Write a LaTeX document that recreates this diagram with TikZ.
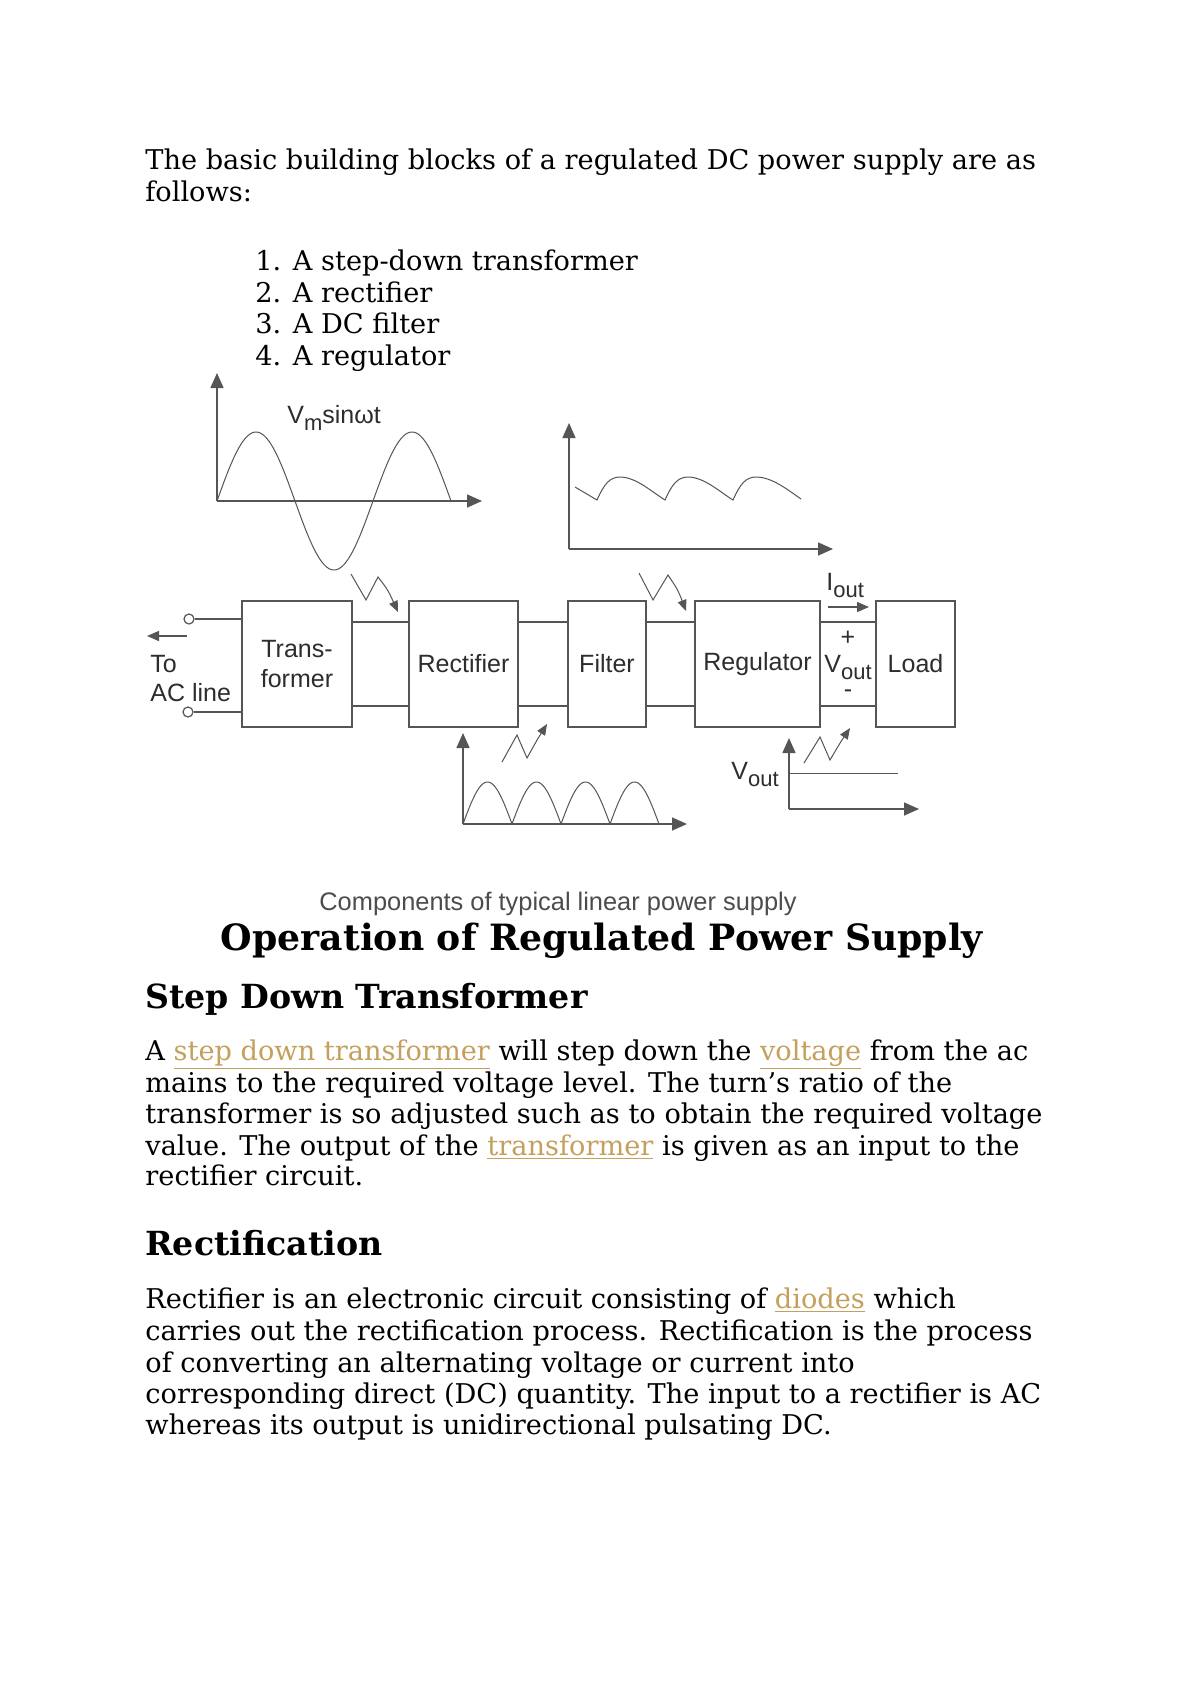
\documentclass[tikz,border=0pt]{standalone}
\usepackage{fontspec}
\setmainfont{DejaVu Serif}
\newfontfamily\dsans{Liberation Sans}
\usetikzlibrary{arrows.meta}
\definecolor{linkc}{RGB}{196,160,92}
\definecolor{lnc}{RGB}{85,85,85}
\definecolor{dtc}{RGB}{45,45,45}
\newcommand{\lnk}[1]{\textcolor{linkc}{\underline{#1}}}
\newcommand{\sbs}[1]{\raisebox{-0.55ex}{\fontsize{11}{11}\selectfont #1}}
\begin{document}
\begin{tikzpicture}[x=0.5pt,y=-0.5pt,
  body/.style={anchor=base west,inner sep=0pt,font=\fontsize{13.6}{16}\selectfont},
  blk/.style={draw=lnc,line width=0.7pt,minimum height=63pt,inner sep=0pt,text=dtc,
     font=\dsans\fontsize{12.5}{15}\selectfont,align=center},
  dlab/.style={inner sep=0pt,text=dtc,font=\dsans\fontsize{12.5}{15}\selectfont},
  wire/.style={draw=lnc,line width=0.7pt},
  axis/.style={draw=lnc,line width=0.8pt,-{Triangle[length=7.5pt,width=6.5pt]}},
  zig/.style={draw=lnc,line width=0.5pt,-{Triangle[length=5.5pt,width=4.5pt]}},
  curve/.style={draw=lnc,line width=0.5pt},
  term/.style={circle,draw=lnc,line width=0.6pt,minimum size=5pt,inner sep=0pt,fill=white}]
\useasboundingbox[fill=white] (0,0) rectangle (1200,1698);

% top text
\node[body] (t1) at (145,169) {The basic building blocks of a regulated DC power supply are as};
\node[body] (t2) at (145,201) {follows:};
\node[body] (l1) at (255,270) {1. A step-down transformer};
\node[body] (l2) at (255,302) {2. A rectifier};
\node[body] (l3) at (255,333) {3. A DC filter};
\node[body] (l4) at (255,365) {4. A regulator};

% sine graph
\coordinate (so) at (217,501);
\draw[axis] (so) -- (217,373);
\draw[axis] (so) -- (482,501);
\draw[curve] plot[domain=0:234,samples=150] ({217+\x},{501-69*sin(\x/78*180)});
\node[dlab,anchor=base west] (vm) at (287,423) {V\sbs{m}sinωt};

% filter graph
\coordinate (fo) at (569,549);
\draw[axis] (fo) -- (569,423);
\draw[axis] (fo) -- (833,549);
\draw[curve] (575,487) -- (597,500) .. controls (604,484) and (610,477) .. (620,477)
  .. controls (636,477) and (652,492) .. (665,500) .. controls (672,484) and (678,477) .. (688,477)
  .. controls (704,477) and (720,492) .. (733,500) .. controls (740,484) and (746,477) .. (756,477)
  .. controls (772,477) and (788,490) .. (801,499);

% blocks
\coordinate (yt) at (0,622);
\coordinate (yb) at (0,706);
\node[blk,minimum width=55pt] (tr) at (297,664) {Trans-\\former};
\node[blk,minimum width=54.5pt] (re) at (463.5,664) {Rectifier};
\node[blk,minimum width=39pt] (fi) at (607,664) {Filter};
\node[blk,minimum width=62.5pt] (rg) at (757.5,664) {Regulator};
\node[blk,minimum width=39.5pt] (ld) at (915.5,664) {Load};
\foreach \a/\b in {tr/re,re/fi,fi/rg,rg/ld}{
  \draw[wire] (\a.east |- yt) -- (\b.west |- yt);
  \draw[wire] (\a.east |- yb) -- (\b.west |- yb);}

% input terminals
\node[term] (ta) at (189,619) {};
\node[term] (tb) at (188,712) {};
\draw[wire] (ta) -- (tr.west |- ta);
\draw[wire] (tb) -- (tr.west |- tb);
\coordinate (aa) at (187,636);
\coordinate (ab) at (147,636);
\draw[draw=lnc,line width=0.7pt,-{Triangle[length=6pt,width=5pt]}] (aa) -- (ab);
\node[dlab,anchor=base west] (to) at (150,672) {To};
\node[dlab,anchor=base west] (acl) at (150,701) {AC line};

% zigzags
\draw[zig] (351,574) -- (366,600) -- (378,577) .. controls (388,590) .. (398,612);
\draw[zig] (639,573) -- (653,600) -- (668,575) .. controls (678,590) .. (686,611);
\draw[zig] (502,762) -- (517,735) -- (527,758) .. controls (537,740) .. (547,724);
\draw[zig] (804,763) -- (820,737) -- (830,760) .. controls (840,743) .. (850,728);

% rectified graph
\coordinate (ro) at (463,824);
\draw[axis] (ro) -- (463,733);
\draw[axis] (ro) -- (687,824);
\draw[curve] plot[domain=0:196,samples=300] ({463+\x},{824-42*abs(sin(\x/49*180))});

% Iout / Vout
\node[dlab,anchor=base west] (io) at (826,590) {I\sbs{out}};
\draw[draw=lnc,line width=0.7pt,-{Triangle[length=6pt,width=5pt]}] (828,607) -- (869,607);
\node[dlab] (pl) at (848,638) {+};
\node[dlab,anchor=base] (vo) at (848,672) {V\sbs{out}};
\node[dlab] (mi) at (848,694) {-};

% Vout graph
\coordinate (vg) at (789,809);
\draw[axis] (vg) -- (789,738);
\draw[axis] (vg) -- (919,809);
\draw[curve] (789,773) -- (898,773);
\node[dlab,anchor=base west] (vl) at (731,779) {V\sbs{out}};

% caption
\node[anchor=base,inner sep=0pt,text=black!70,font=\dsans\fontsize{12.7}{14}\selectfont] (cap) at (558,910) {Components of typical linear power supply};

% headings
\node[anchor=base,inner sep=0pt,font=\bfseries\fontsize{18.1}{22}\selectfont] (h1) at (602,950) {Operation of Regulated Power Supply};
\node[anchor=base west,inner sep=0pt,font=\bfseries\fontsize{16.6}{20}\selectfont] (h2) at (145,1008) {Step Down Transformer};
\node[body] (p1) at (145,1060) {A \lnk{step down transformer} will step down the \lnk{voltage} from the ac};
\node[body] (p2) at (145,1092) {mains to the required voltage level. The turn’s ratio of the};
\node[body] (p3) at (145,1123) {transformer is so adjusted such as to obtain the required voltage};
\node[body] (p4) at (145,1155) {value. The output of the \lnk{transformer} is given as an input to the};
\node[body] (p5) at (145,1185) {rectifier circuit.};

\node[anchor=base west,inner sep=0pt,font=\bfseries\fontsize{16.6}{20}\selectfont] (h3) at (145,1255) {Rectification};
\node[body] (q1) at (145,1308) {Rectifier is an electronic circuit consisting of \lnk{diodes} which};
\node[body] (q2) at (145,1340) {carries out the rectification process. Rectification is the process};
\node[body] (q3) at (145,1372) {of converting an alternating voltage or current into};
\node[body] (q4) at (145,1403) {corresponding direct (DC) quantity. The input to a rectifier is AC};
\node[body] (q5) at (145,1434) {whereas its output is unidirectional pulsating DC.};
\end{tikzpicture}
\end{document}
